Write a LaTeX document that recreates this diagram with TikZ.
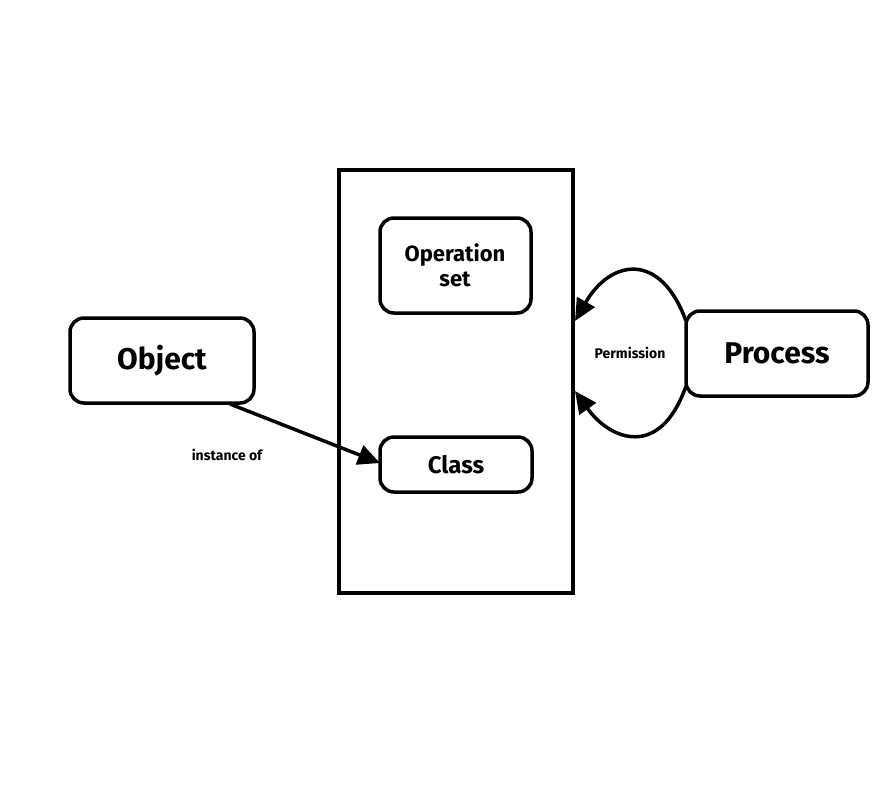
\documentclass[tikz,border=0pt]{standalone}
\usepackage{fontspec}
\setmainfont{Fira Sans}
\usetikzlibrary{arrows.meta}
\begin{document}
\begin{tikzpicture}[x=1pt,y=-1pt,
  box/.style={draw,line width=3.5pt,rounded corners=14pt},
  lbl/.style={font=\bfseries},
  arr/.style={line width=3.5pt,-{Triangle[length=22pt,width=20pt]}}]
\useasboundingbox (0,0) rectangle (888,790);
\draw[line width=3.5pt] (339,170) rectangle (573,593);
\node[box,minimum width=151pt,minimum height=95pt] (op) at (455.5,265.5) {};
\node[lbl,font=\bfseries\fontsize{22}{25}\selectfont,align=center] at (455,265) {Operation\\set};
\node[box,minimum width=152pt,minimum height=55pt,font=\bfseries\fontsize{24}{28}\selectfont] (cl) at (456,464.5) {Class};
\node[box,minimum width=184pt,minimum height=85pt,font=\bfseries\fontsize{30}{34}\selectfont] (ob) at (162,360.5) {Object};
\node[box,minimum width=182pt,minimum height=85pt,font=\bfseries\fontsize{30}{34}\selectfont] (pr) at (777,353.5) {Process};
\coordinate (o1) at (230,404);
\coordinate (c1) at (380,463);
\draw[arr] (o1) -- (c1);
\node[font=\bfseries\fontsize{14}{16}\selectfont] (io) at (227,455) {instance of};
\node[font=\bfseries\fontsize{14}{16}\selectfont] (pm) at (630,353) {Permission};
\coordinate (p1) at (686,321);
\coordinate (p2) at (686,386);
\coordinate (t1) at (575,321);
\coordinate (t2) at (575,391);
\draw[arr] (p1) .. controls (660,250) and (610,260) .. (t1);
\draw[arr] (p2) .. controls (660,460) and (610,440) .. (t2);
\end{tikzpicture}
\end{document}
